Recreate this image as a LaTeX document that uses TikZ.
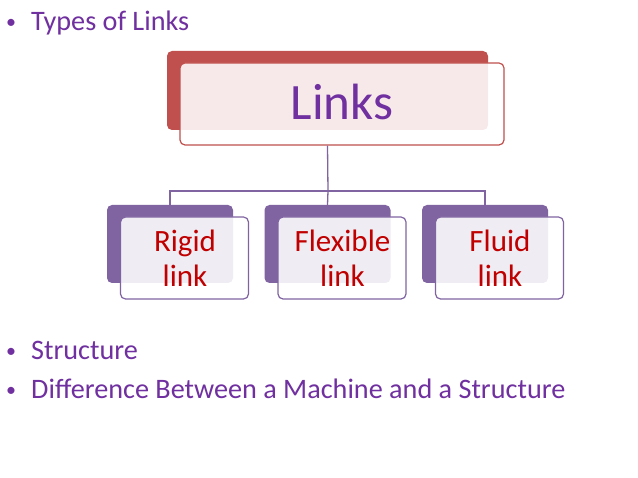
\documentclass[tikz,border=0pt]{standalone}
\usepackage{fontspec}
\setmainfont{Carlito}
\definecolor{ttl}{HTML}{7030A0}
\definecolor{redc}{HTML}{C0504D}
\definecolor{purc}{HTML}{8064A2}
\definecolor{txtred}{HTML}{C00000}
\begin{document}
\begin{tikzpicture}[x=1pt,y=-1pt,
  bullet/.style={anchor=base west,text=ttl,font=\fontsize{28.2}{32}\selectfont,inner sep=0pt},
  dot/.style={text=ttl,font=\fontsize{20}{24}\selectfont,inner sep=0pt,anchor=base},
  backbox/.style={draw=none,rounded corners=5pt,inner sep=0pt},
  frontbox/.style={rounded corners=5pt,fill=white,fill opacity=0.88,text opacity=1,line width=1.2pt,inner sep=0pt},
  childtxt/.style={text=txtred,font=\fontsize{31}{35}\selectfont,align=center,inner sep=0pt},
  conn/.style={draw=purc,line width=1.3pt}]
\useasboundingbox (0,0) rectangle (638,478);
\fill[white] (0,0) rectangle (638,478);
% bullets
\node[bullet] (b1) at (31,31) {Types of Links};
\node[dot] (d1) at (11,29) {•};
\node[bullet] (b2) at (31,360) {Structure};
\node[dot] (d2) at (11,358) {•};
\node[bullet] (b3) at (31,399) {Difference Between a Machine and a Structure};
\node[dot] (d3) at (11,397) {•};
% top box
\node[backbox,fill=redc,minimum width=321pt,minimum height=79pt] (topback) at (327.5,90.5) {};
\node[frontbox,draw=redc,minimum width=324pt,minimum height=82pt] (topfront) at (342,104) {};
\node[text=ttl,font=\fontsize{51}{60}\selectfont,inner sep=0pt,anchor=base] (toptxt) at (342,120) {Links};
% children
\foreach \n/\cx/\t in {c1/170/{Rigid\\link},c2/327.5/{Flexible\\link},c3/485/{Fluid\\link}}{
  \node[backbox,fill=purc,minimum width=126pt,minimum height=78pt] (\n back) at (\cx,244) {};
  \node[frontbox,draw=purc,minimum width=128pt,minimum height=82pt] (\n front) at ({\cx+14.5},258) {};
  \node[childtxt] (\n txt) at ({\cx+15},258) {\t};
}
% connectors
\coordinate (j) at (328,191);
\draw[conn] (topfront.south -| topback.south) -- (j);
\draw[conn] (c1back.north) |- (j) -| (c3back.north);
\draw[conn] (j) -- (c2back.north);
\end{tikzpicture}
\end{document}
